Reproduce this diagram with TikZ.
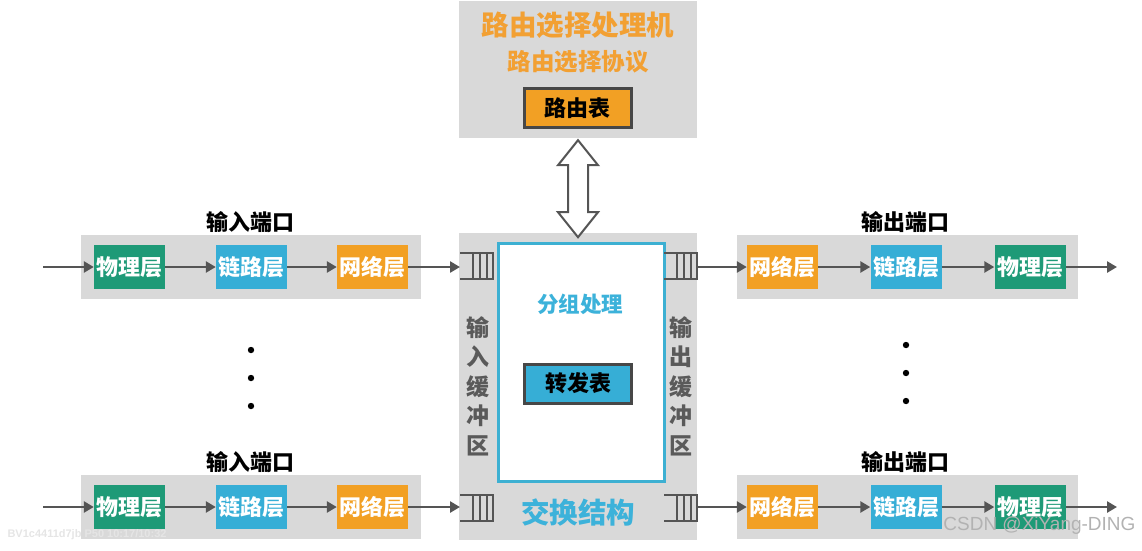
\documentclass[tikz,border=0pt]{standalone}
\usepackage{fontspec}
\setmainfont{Noto Sans CJK SC}
\newfontfamily\latinf{Liberation Sans}
\usetikzlibrary{arrows.meta,calc}
\definecolor{graybg}{HTML}{D9D9D9}
\definecolor{physg}{HTML}{1E9A77}
\definecolor{linkc}{HTML}{36AED6}
\definecolor{neto}{HTML}{F2A024}
\definecolor{titleo}{HTML}{F2A033}
\definecolor{arrg}{HTML}{555555}
\definecolor{framec}{HTML}{3DB0D2}
\definecolor{txtc}{HTML}{3CB2DA}
\definecolor{vtxt}{HTML}{5A5A5A}
\tikzset{
  bg/.style={fill=graybg, draw=none, inner sep=0pt},
  layer/.style={minimum width=71pt, minimum height=44pt, inner sep=0pt, text=white,
    font=\bfseries\fontsize{22}{22}\selectfont},
  phys/.style={layer, fill=physg},
  link/.style={layer, fill=linkc},
  netw/.style={layer, fill=neto},
  portlbl/.style={font=\bfseries\fontsize{22}{22}\selectfont, text=black},
  tbl/.style={minimum width=107pt, minimum height=39pt, inner sep=0pt, draw=black!72,
    line width=3pt, font=\bfseries\fontsize{22}{22}\selectfont, text=black},
  arr/.style={draw=arrg, line width=2.6pt, -{Triangle[length=10pt,width=11pt]}},
  qline/.style={draw=arrg, line width=2pt},
  vtext/.style={font=\bfseries\fontsize{23}{29.5}\selectfont, text=vtxt, align=center},
  dotc/.style={fill=black},
  queue/.pic={
    \draw[qline] (-16.5,-13) -- (16.5,-13) -- (16.5,13) -- (-16.5,13);
    \foreach \xx in {-3.5,3.5,10} \draw[qline] (\xx,-13) -- (\xx,13);
    \coordinate (-in) at (-16.5,0);
    \coordinate (-out) at (16.5,0);
  }
}
\begin{document}
\begin{tikzpicture}[x=1pt,y=-1pt]
\useasboundingbox (0,0) rectangle (1142,550);

% routing processor
\node[bg, minimum width=238pt, minimum height=137pt] (rp) at (578,69.5) {};
\node[font=\bfseries\fontsize{27.5}{27.5}\selectfont, text=titleo] (rpt) at (578,25) {路由选择处理机};
\node[font=\bfseries\fontsize{23.5}{23.5}\selectfont, text=titleo] (rpp) at (578,62) {路由选择协议};
\node[tbl, fill=neto] (rt) at (577.5,108) {路由表};

% switch fabric
\node[bg, minimum width=238pt, minimum height=307pt] (sw) at (578,386.5) {};
\node[draw=framec, fill=white, line width=3pt, minimum width=166pt, minimum height=238pt, inner sep=0pt] (proc) at (581,362) {};
\node[font=\bfseries\fontsize{21.5}{21.5}\selectfont, text=txtc] (proct) at (580,304) {分组处理};
\node[tbl, fill=linkc] (ft) at (578,383.5) {转发表};
\node[font=\bfseries\fontsize{28.5}{28.5}\selectfont, text=txtc] (swt) at (578,512) {交换结构};
\node[vtext] (ibuf) at (478,386) {输\\入\\缓\\冲\\区};
\node[vtext] (obuf) at (681,386) {输\\出\\缓\\冲\\区};

% double arrow
\draw[fill=white, draw=arrg, line width=2pt, line join=miter]
  (rp.south) ++(0,2) -- ++(20,25) -- ++(-10,0) -- ++(0,47) -- ++(10,0)
  -- ++(-20,25) -- ++(-20,-25) -- ++(10,0) -- ++(0,-47) -- ++(-10,0) -- cycle;

% queues
\pic (qi1) at (476.5,266) {queue};
\pic (qo1) at (680.5,266) {queue};
\pic (qi2) at (476.5,508) {queue};
\pic (qo2) at (680.5,508) {queue};

% input ports
\foreach \yy/\nn in {267/1,507/2}{
  \node[bg, minimum width=340pt, minimum height=64pt] (ip\nn) at (251,\yy) {};
  \node[portlbl] (ipl\nn) at (250,\yy-45) {输入端口};
  \node[phys] (ia\nn) at (129.5,\yy) {物理层};
  \node[link] (ib\nn) at (251.5,\yy) {链路层};
  \node[netw] (ic\nn) at (372.5,\yy) {网络层};
  \coordinate (iin\nn) at (43,\yy);
}
\foreach \yy/\nn in {267/1,507/2}{
  \node[bg, minimum width=341pt, minimum height=64pt] (op\nn) at (907.5,\yy) {};
  \node[portlbl] (opl\nn) at (905,\yy-45) {输出端口};
  \node[netw] (oa\nn) at (782.5,\yy) {网络层};
  \node[link] (ob\nn) at (906,\yy) {链路层};
  \node[phys] (oc\nn) at (1030,\yy) {物理层};
  \coordinate (oout\nn) at (1117,\yy);
}

% arrows
\foreach \nn in {1,2}{
  \draw[arr] (iin\nn) -- (ia\nn.west);
  \draw[arr] (ia\nn) -- (ib\nn);
  \draw[arr] (ib\nn) -- (ic\nn);
  \draw[arr] (ic\nn.east) -- (ic\nn.east -| qi\nn-in);
  \draw[arr] (qo\nn-out |- oa\nn.west) -- (oa\nn.west);
  \draw[arr] (oa\nn) -- (ob\nn);
  \draw[arr] (ob\nn) -- (oc\nn);
  \draw[arr] (oc\nn.east) -- (oout\nn);
}

% dots
\foreach \yy in {350,378,406} \fill[dotc] (251,\yy) circle (3.2);
\foreach \yy in {345,373,401} \fill[dotc] (906,\yy) circle (3.2);

% watermarks
\node[anchor=west, font=\latinf\bfseries\fontsize{11}{11}\selectfont, text=black!10] (wm1) at (4,535) {BV1c4411d7jb P50 10:17/10:32};
\node[anchor=east, font=\latinf\fontsize{19}{19}\selectfont, text=black!30] (wm2) at (1139,526) {CSDN @XiYang-DING};
\end{tikzpicture}
\end{document}
